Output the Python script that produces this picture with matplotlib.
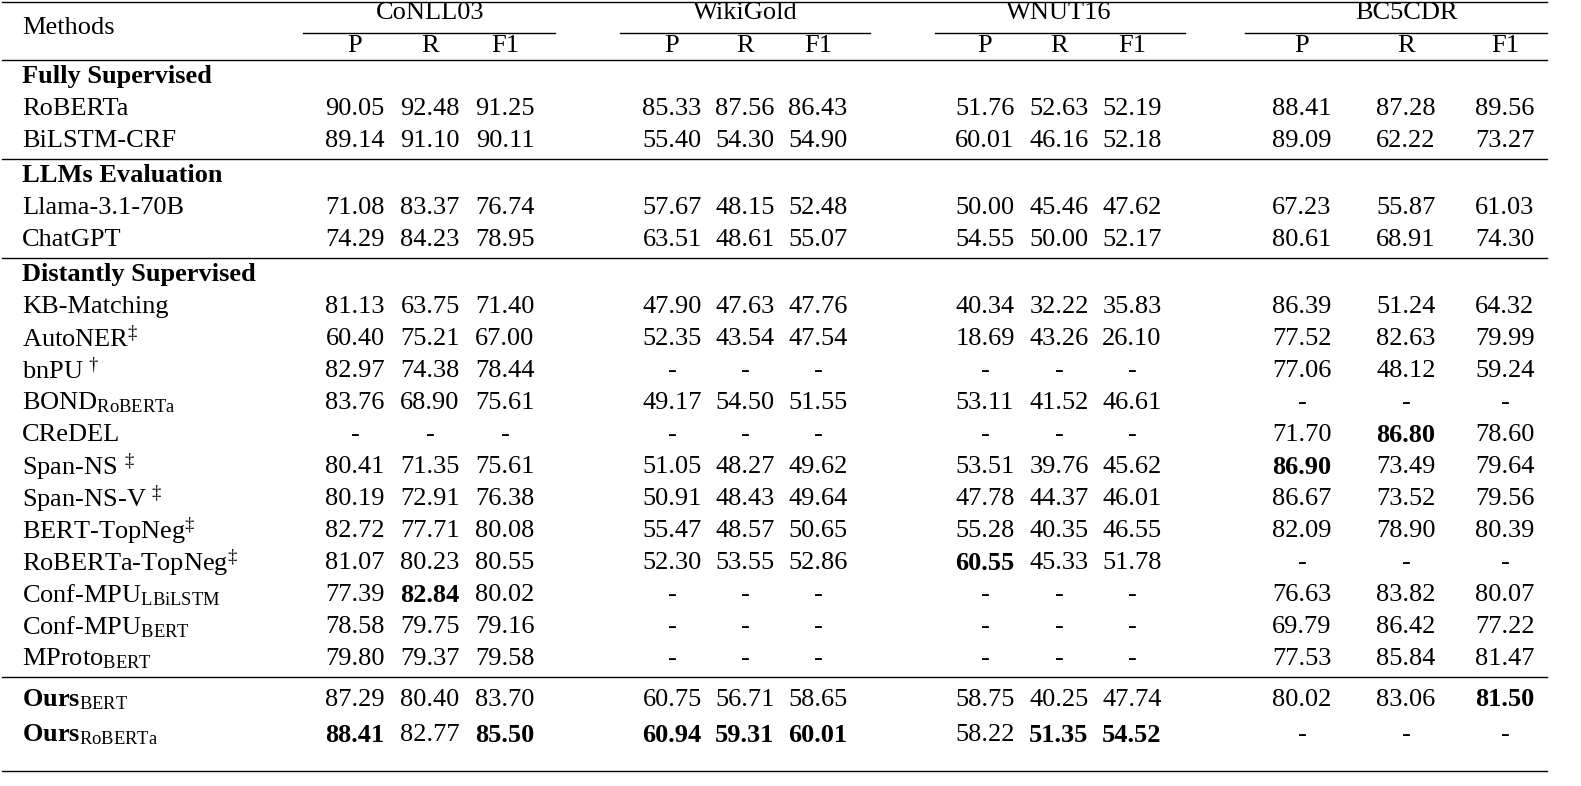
import matplotlib
matplotlib.use("Agg")
import matplotlib.pyplot as plt

plt.rcParams['font.family'] = ['Liberation Serif', 'DejaVu Serif']
plt.rcParams['mathtext.fontset'] = 'custom'
plt.rcParams['mathtext.rm'] = 'Liberation Serif'
plt.rcParams['mathtext.bf'] = 'Liberation Serif:bold'
plt.rcParams['mathtext.it'] = 'Liberation Serif:italic'

datasets = ["CoNLL03", "WikiGold", "WNUT16", "BC5CDR"]
metrics = ["P", "R", "F1"]
sections = ["Fully Supervised", "LLMs Evaluation", "Distantly Supervised", None]

methods = [
    ["RoBERTa", "BiLSTM-CRF"],
    ["Llama-3.1-70B", "ChatGPT"],
    ["KB-Matching", r"AutoNER$^{\ddagger}$", r"bnPU $^{\dagger}$", r"BOND$_{\mathrm{RoBERTa}}$",
     "CReDEL", r"Span-NS $^{\ddagger}$", r"Span-NS-V $^{\ddagger}$", r"BERT-TopNeg$^{\ddagger}$",
     r"RoBERTa-TopNeg$^{\ddagger}$", r"Conf-MPU$_{\mathrm{LBiLSTM}}$", r"Conf-MPU$_{\mathrm{BERT}}$",
     r"MProto$_{\mathrm{BERT}}$"],
    [r"$\mathbf{Ours}_{\mathrm{BERT}}$", r"$\mathbf{Ours}_{\mathrm{RoBERTa}}$"],
]

values = [
    [["90.05","92.48","91.25","85.33","87.56","86.43","51.76","52.63","52.19","88.41","87.28","89.56"],
     ["89.14","91.10","90.11","55.40","54.30","54.90","60.01","46.16","52.18","89.09","62.22","73.27"]],
    [["71.08","83.37","76.74","57.67","48.15","52.48","50.00","45.46","47.62","67.23","55.87","61.03"],
     ["74.29","84.23","78.95","63.51","48.61","55.07","54.55","50.00","52.17","80.61","68.91","74.30"]],
    [["81.13","63.75","71.40","47.90","47.63","47.76","40.34","32.22","35.83","86.39","51.24","64.32"],
     ["60.40","75.21","67.00","52.35","43.54","47.54","18.69","43.26","26.10","77.52","82.63","79.99"],
     ["82.97","74.38","78.44","-","-","-","-","-","-","77.06","48.12","59.24"],
     ["83.76","68.90","75.61","49.17","54.50","51.55","53.11","41.52","46.61","-","-","-"],
     ["-","-","-","-","-","-","-","-","-","71.70","86.80","78.60"],
     ["80.41","71.35","75.61","51.05","48.27","49.62","53.51","39.76","45.62","86.90","73.49","79.64"],
     ["80.19","72.91","76.38","50.91","48.43","49.64","47.78","44.37","46.01","86.67","73.52","79.56"],
     ["82.72","77.71","80.08","55.47","48.57","50.65","55.28","40.35","46.55","82.09","78.90","80.39"],
     ["81.07","80.23","80.55","52.30","53.55","52.86","60.55","45.33","51.78","-","-","-"],
     ["77.39","82.84","80.02","-","-","-","-","-","-","76.63","83.82","80.07"],
     ["78.58","79.75","79.16","-","-","-","-","-","-","69.79","86.42","77.22"],
     ["79.80","79.37","79.58","-","-","-","-","-","-","77.53","85.84","81.47"]],
    [["87.29","80.40","83.70","60.75","56.71","58.65","58.75","40.25","47.74","80.02","83.06","81.50"],
     ["88.41","82.77","85.50","60.94","59.31","60.01","58.22","51.35","54.52","-","-","-"]],
]

bold = {(2, 4, 10), (2, 5, 9), (2, 8, 6), (2, 9, 1), (3, 0, 11),
        (3, 1, 0), (3, 1, 2), (3, 1, 3), (3, 1, 4), (3, 1, 5), (3, 1, 7), (3, 1, 8)}

W, H = 1581, 786
fig = plt.figure(figsize=(W/100, H/100), dpi=100)
ax = fig.add_axes([0, 0, 1, 1])
ax.set_xlim(0, W); ax.set_ylim(H, 0); ax.axis('off')

fs = 19
col_x = [355, 430, 505, 672, 745, 818, 985, 1059, 1132, 1302, 1406, 1505]
grp_x = [430, 745, 1059, 1406]
grp_span = [(303, 555), (620, 870), (935, 1185), (1245, 1547)]
lw = 1.0

def hline(y, x0=2, x1=1547):
    ax.plot([x0, x1], [y, y], color='black', lw=lw)

hline(2)
ax.text(22, 28, "Methods", fontsize=fs, va='center', ha='left')
for g, x, (a, b) in zip(datasets, grp_x, grp_span):
    ax.text(x, 13, g, fontsize=fs, ha='center', va='center')
    hline(33, a, b)
for i, x in enumerate(col_x):
    ax.text(x, 46, metrics[i % 3], fontsize=fs, ha='center', va='center')
hline(60)

pitch = 32
y = 60
for s, (sec, names, rows) in enumerate(zip(sections, methods, values)):
    if sec is not None:
        y += 17
        ax.text(22, y, sec, fontsize=fs, fontweight='bold', va='center', ha='left')
        step, first = pitch, pitch
        tail = 18
    else:
        step, first = 35, 23
        tail = 36
    for r, (name, row) in enumerate(zip(names, rows)):
        y += first if r == 0 else step
        ax.text(22, y, name, fontsize=fs, va='center', ha='left')
        for c, v in enumerate(row):
            ax.text(col_x[c], y, v, fontsize=fs, ha='center', va='center',
                    fontweight='bold' if (s, r, c) in bold else 'normal')
    y += tail
    hline(y)

fig.savefig("out.png", dpi=100)
